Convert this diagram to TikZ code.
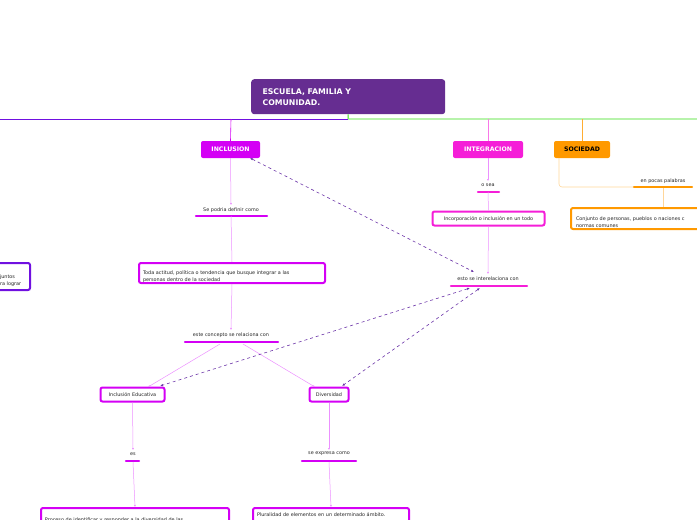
\documentclass[tikz,border=0pt]{standalone}
\usepackage{fontspec}
\setmainfont{DejaVu Sans}
\usetikzlibrary{arrows.meta}
\definecolor{tpur}{HTML}{662D91}
\definecolor{mag}{HTML}{D400F5}
\definecolor{pnk}{HTML}{F51ED8}
\definecolor{org}{HTML}{FF9900}
\definecolor{lmag}{HTML}{EC90FF}
\definecolor{vio}{HTML}{7010E0}
\definecolor{dpur}{HTML}{6B35A8}
\definecolor{grn}{HTML}{33DD11}
\begin{document}
\begin{tikzpicture}[x=1pt,y=-1pt,
 topic/.style={rounded corners=2pt,font=\fontsize{6.2}{7}\selectfont\bfseries,inner sep=0pt,minimum height=17pt},
 lab/.style={font=\fontsize{4.9}{5.5}\selectfont,text=black!85,inner sep=0pt},
 bar/.style={line width=2.4pt,line cap=round},
 tbox/.style={draw=mag,line width=2pt,rounded corners=2pt,fill=white,font=\fontsize{4.9}{6.8}\selectfont,text=black!85,align=left,anchor=north west,inner sep=0pt,text depth=0pt},
 conn/.style={lmag,line width=0.5pt,-{Latex[length=2pt,width=2pt]}},
 dsh/.style={dpur,dashed,line width=0.6pt,{Latex[length=3pt,width=2.5pt]}-{Latex[length=3pt,width=2.5pt]}}]
\useasboundingbox (0,0) rectangle (697,520);
% title
\node[fill=tpur,rounded corners=3pt,minimum width=194pt,minimum height=35pt,anchor=north west,inner sep=0pt] (title) at (251,79) {};
\node[text=white,font=\fontsize{7.8}{10.5}\selectfont\bfseries,align=left,anchor=west] at (259,97) {ESCUELA, FAMILIA Y\\COMUNIDAD.};
\coordinate (hub) at (348,119);
\draw[grn,line width=0.9pt] (title.south) -- (hub) -- (697,119);
\draw[vio,line width=0.9pt] (hub) -- (0,119);
% topics
\node[topic,fill=mag,text=white,minimum width=59pt] (inc) at (230.5,149.5) {INCLUSION};
\node[topic,fill=pnk,text=white,minimum width=70pt] (int) at (488,149.5) {INTEGRACION};
\node[topic,fill=org,text=black,minimum width=56pt] (soc) at (582,149.5) {SOCIEDAD};
\draw[mag,line width=0.6pt,rounded corners=3pt] (231,119) -- (inc.north);
\draw[pnk!60,line width=0.6pt,rounded corners=3pt] (488,119) -- (int.north);
\draw[org!80,line width=0.6pt,rounded corners=3pt] (582,119) -- (soc.north);
% inclusion chain
\node[lab] (l1) at (231,210) {Se podria definir como};
\draw[bar,mag] (196,216) -- (267,216);
\coordinate (b1) at (231,216);
\draw[conn] (inc.south) -- (231,205);
\node[tbox,minimum width=185pt,minimum height=20pt,text width=178pt,inner xsep=4pt] (toda) at (138,262) {Toda actitud, política o tendencia que busque integrar a las\\personas dentro de la sociedad};
\draw[conn,-] (b1) -- (toda.north);
\node[lab] (l2) at (231,335) {este concepto se relaciona con};
\draw[bar,mag] (185,342) -- (278,342);
\draw[conn] (toda.south) -- (231,330);
\node[tbox,anchor=center,minimum width=64pt,minimum height=14pt,inner xsep=3pt] (ie) at (132.5,394.5) {Inclusión Educativa};
\node[tbox,anchor=center,minimum width=39pt,minimum height=14pt,inner xsep=3pt] (div) at (329,394.5) {Diversidad};
\draw[conn] (220,344) -- (148,387);
\draw[conn] (243,344) -- (315,387);
\node[lab] (l3) at (133,454) {es};
\draw[bar,mag] (126,461) -- (139,461);
\draw[conn] (ie.south) -- (133,450);
\node[lab] (l4) at (329,454) {se expresa como};
\draw[bar,mag] (302,461) -- (356,461);
\draw[conn] (div.south) -- (329,450);
\node[tbox,minimum width=186pt,minimum height=24pt,text width=180pt,inner xsep=4pt,inner ysep=3pt] (proc) at (40,507) {Proceso de identificar y responder a la diversidad de las\\necesidades de todos los estudiantes a través de la mayor};
\node[tbox,minimum width=154pt,minimum height=14pt,text width=148pt,inner xsep=4pt,inner ysep=3pt] (plur) at (252,507) {Pluralidad de elementos en un determinado ámbito.};
\draw[conn] (133,462) -- (proc.north);
\draw[conn] (329,462) -- (plur.north);
% integracion chain
\node[lab] (l5) at (488,185) {o sea};
\draw[bar,pnk] (478,192) -- (499,192);
\draw[conn] (int.south) -- (488,181);
\node[tbox,draw=pnk,anchor=center,minimum width=112pt,minimum height=14pt,inner xsep=3pt] (incorp) at (488.5,218.5) {Incorporación o inclusión en un todo};
\draw[conn,-] (488,192) -- (incorp.north);
\node[lab] (l6) at (488,279) {esto se interelaciona con};
\draw[bar,pnk] (451,286) -- (527,286);
\draw[conn] (incorp.south) -- (488,274);
% sociedad chain
\draw[org!40,line width=0.6pt,rounded corners=3pt] (559,158) -- (559,187) -- (633,187);
\node[lab] (l7) at (663,181) {en pocas palabras};
\draw[bar,org] (634,187) -- (692,187);
\node[tbox,draw=org,minimum width=140pt,minimum height=21pt,text width=135pt,inner xsep=5pt] (conj) at (570,207) {Conjunto de personas, pueblos o naciones c\\normas comunes};
\draw[org!40,line width=0.6pt] (663,188) -- (663,207);
% left partial
\node[tbox,draw=vio,minimum width=60pt,minimum height=27pt,text width=52pt,inner xsep=4pt] (left) at (-31,262) {\hspace*{26pt}juntos\\\hspace*{26pt}ra lograr};
% dashed
\draw[dsh] (250,158) -- (474,272);
\draw[dsh] (470,288) -- (160,386);
\draw[dsh] (480,288) -- (342,386);
\end{tikzpicture}
\end{document}
